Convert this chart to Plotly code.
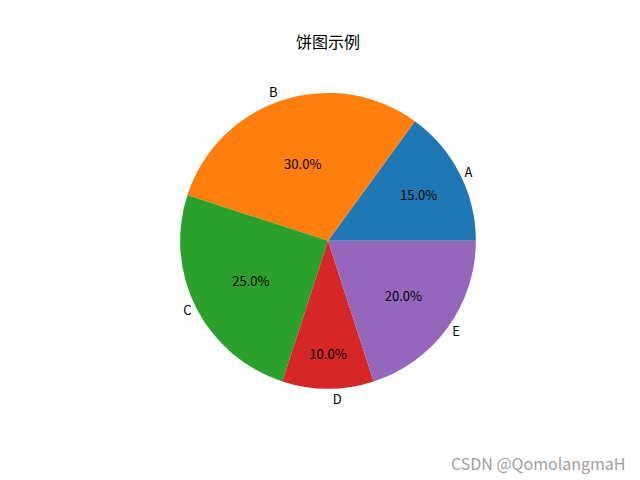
import plotly.graph_objects as go

# 数据
labels = ['A', 'B', 'C', 'D', 'E']
sizes = [15, 30, 25, 10, 20]
colors = ['#1f77b4', '#ff7f0e', '#2ca02c', '#d62728', '#9467bd']

font_family = 'Noto Sans CJK SC, Microsoft YaHei, sans-serif'
domain = dict(x=[0.2685, 0.7315], y=[0.207, 0.823])

fig = go.Figure()

# 扇形 + 百分比
fig.add_trace(go.Pie(
    labels=labels, values=sizes, sort=False,
    direction='counterclockwise', rotation=36,
    marker=dict(colors=colors),
    textinfo='percent', texttemplate='%{percent:.1%}',
    textposition='inside', insidetextorientation='horizontal',
    textfont=dict(color='black', size=13, family=font_family),
    domain=domain, showlegend=False, hoverinfo='skip',
))

# 外侧标签
fig.add_trace(go.Pie(
    labels=labels, values=sizes, sort=False,
    direction='counterclockwise', rotation=36,
    marker=dict(colors=['rgba(0,0,0,0)'] * 5),
    textinfo='label', textposition='outside',
    textfont=dict(color='black', size=13, family=font_family),
    domain=domain, showlegend=False, hoverinfo='skip',
))

fig.update_layout(
    width=640, height=480,
    margin=dict(l=0, r=0, t=0, b=0),
    paper_bgcolor='white',
    title=dict(text='饼图示例', x=0.5, xanchor='center', y=0.928, yanchor='middle',
               font=dict(size=16, color='black', family=font_family)),
    annotations=[dict(text='CSDN @QomolangmaH', x=0.968, y=0.052, xref='paper', yref='paper',
                      xanchor='right', yanchor='middle', showarrow=False,
                      font=dict(size=16, color='#a0a0a0', family=font_family))],
)

fig.write_html('out.html')
